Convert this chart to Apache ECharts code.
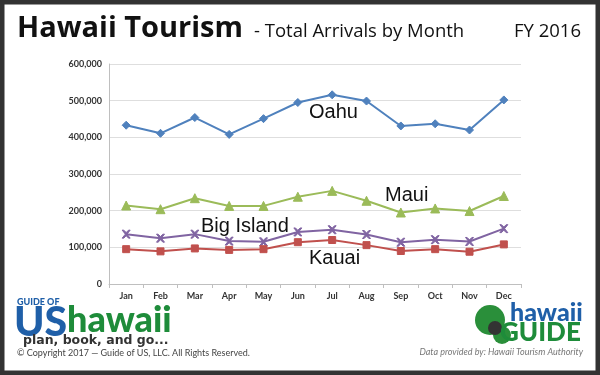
<!DOCTYPE html>
<html><head><meta charset="utf-8">
<script src="https://cdn.jsdelivr.net/npm/echarts@6/dist/echarts.min.js"></script>
<style>html,body{margin:0;padding:0;background:#fff}#c{width:600px;height:375px}</style>
</head><body><div id="c"></div>
<script>
var months = ['Jan','Feb','Mar','Apr','May','Jun','Jul','Aug','Sep','Oct','Nov','Dec'];
var oahu = [433000,411000,454000,408000,451000,495000,516000,499000,431000,437000,420000,502000];
var maui = [214000,204000,234000,213000,213000,238000,254000,227000,195000,206000,199000,240000];
var bigIsland = [136000,125000,136000,117000,115000,142000,148000,135000,114000,121000,116000,151000];
var kauai = [95000,89000,97000,93000,95000,114000,120000,106000,90000,95000,88000,108000];
var yTicks = [0,100000,200000,300000,400000,500000,600000];

var chart = echarts.init(document.getElementById('c'), null, {renderer:'canvas'});
var labFont = 'Lato';
function ser(name, data, color, symbol, size){
  return {name:name, type:'line', data:data, symbol:symbol, symbolSize:size, showSymbol:true,
    lineStyle:{color:color, width:2}, itemStyle:{color:color, borderColor:color, borderWidth:1}, z:3, animation:false};
}
var xMark = 'path://M0,0 L2,0 L5,3 L8,0 L10,0 L6,5 L10,10 L8,10 L5,7 L2,10 L0,10 L4,5 Z';
chart.setOption({
  backgroundColor:'#fff',
  animation:false,
  grid:{left:109, right:79, top:64, bottom:91, containLabel:false},
  xAxis:{type:'category', data:months, boundaryGap:true,
    axisLine:{lineStyle:{color:'#bfbfbf'}}, axisTick:{show:true, lineStyle:{color:'#bfbfbf'}, length:4},
    axisLabel:{color:'#333', fontFamily:labFont, fontWeight:'bold', fontSize:9, margin:8}},
  yAxis:{type:'value', min:0, max:600000, interval:100000,
    axisLine:{show:true, lineStyle:{color:'#bfbfbf'}}, axisTick:{show:false},
    splitLine:{lineStyle:{color:'#dedede'}},
    axisLabel:{color:'#333', fontFamily:labFont, fontWeight:'bold', fontSize:9, margin:7,
      formatter:function(v){ return v.toLocaleString('en-US'); }}},
  series:[
    ser('Oahu', oahu, '#4f81bd', 'diamond', 8),
    ser('Maui', maui, '#9bbb59', 'triangle', 9),
    ser('Big Island', bigIsland, '#8064a2', xMark, 8),
    ser('Kauai', kauai, '#c0504d', 'rect', 7)
  ],
  graphic:[
    {type:'text', left:17, top:14, style:{text:'Hawaii Tourism', font:'bold 29px "Open Sans"', fill:'#111'}},
    {type:'text', left:254, top:22, style:{text:'- Total Arrivals by Month', font:'18.5px "Open Sans"', fill:'#111'}},
    {type:'text', left:514, top:22, style:{text:'FY 2016', font:'18.5px "Open Sans"', fill:'#111'}},
    {type:'text', left:309, top:102, style:{text:'Oahu', font:'20px "Liberation Sans"', fill:'#111'}},
    {type:'text', left:385, top:185, style:{text:'Maui', font:'20px "Liberation Sans"', fill:'#111'}},
    {type:'text', left:201, top:216, style:{text:'Big Island', font:'20px "Liberation Sans"', fill:'#111'}},
    {type:'text', left:309, top:248, style:{text:'Kauai', font:'20px "Liberation Sans"', fill:'#111'}},
    // left logo
    {type:'text', left:17, top:298, style:{text:'GUIDE OF', font:'900 9px Lato', fill:'#1f5fa8'}},
    {type:'text', left:14, top:302, style:{text:'US', font:'900 41px Lato', fill:'#1f5fa8'}},
    {type:'text', left:67, top:302, style:{text:'hawaii', font:'900 36px Lato', fill:'#1e8c3a'}},
    {type:'text', left:23, top:334, style:{text:'plan, book, and go...', font:'bold 12.5px "DejaVu Sans"', fill:'#333'}},
    {type:'text', left:17, top:349, style:{text:'\u00a9 Copyright 2017 \u2014 Guide of US, LLC. All Rights Reserved.', font:'9px Lato', fill:'#444'}},
    // right logo
    {type:'circle', shape:{cx:490, cy:320, r:15}, style:{fill:'#2a8f3a'}},
    {type:'circle', shape:{cx:502, cy:335, r:9}, style:{fill:'#2a8f3a'}},
    {type:'circle', shape:{cx:495, cy:328, r:7}, style:{fill:'#333'}},
    {type:'text', left:510, top:300, style:{text:'hawaii', font:'900 25px Lato', fill:'#1f5fa8'}},
    {type:'text', left:500, top:320, style:{text:'GUIDE', font:'900 26px Lato', fill:'#1e8c3a'}},
    {type:'text', right:17, top:348, style:{text:'Data provided by: Hawaii Tourism Authority', font:'italic 9px Lato', fill:'#777'}},
    // frame
    {type:'rect', shape:{x:2, y:2, width:596, height:371}, style:{fill:'none', stroke:'#333', lineWidth:5}, z:100}
  ]
});
</script></body></html>
